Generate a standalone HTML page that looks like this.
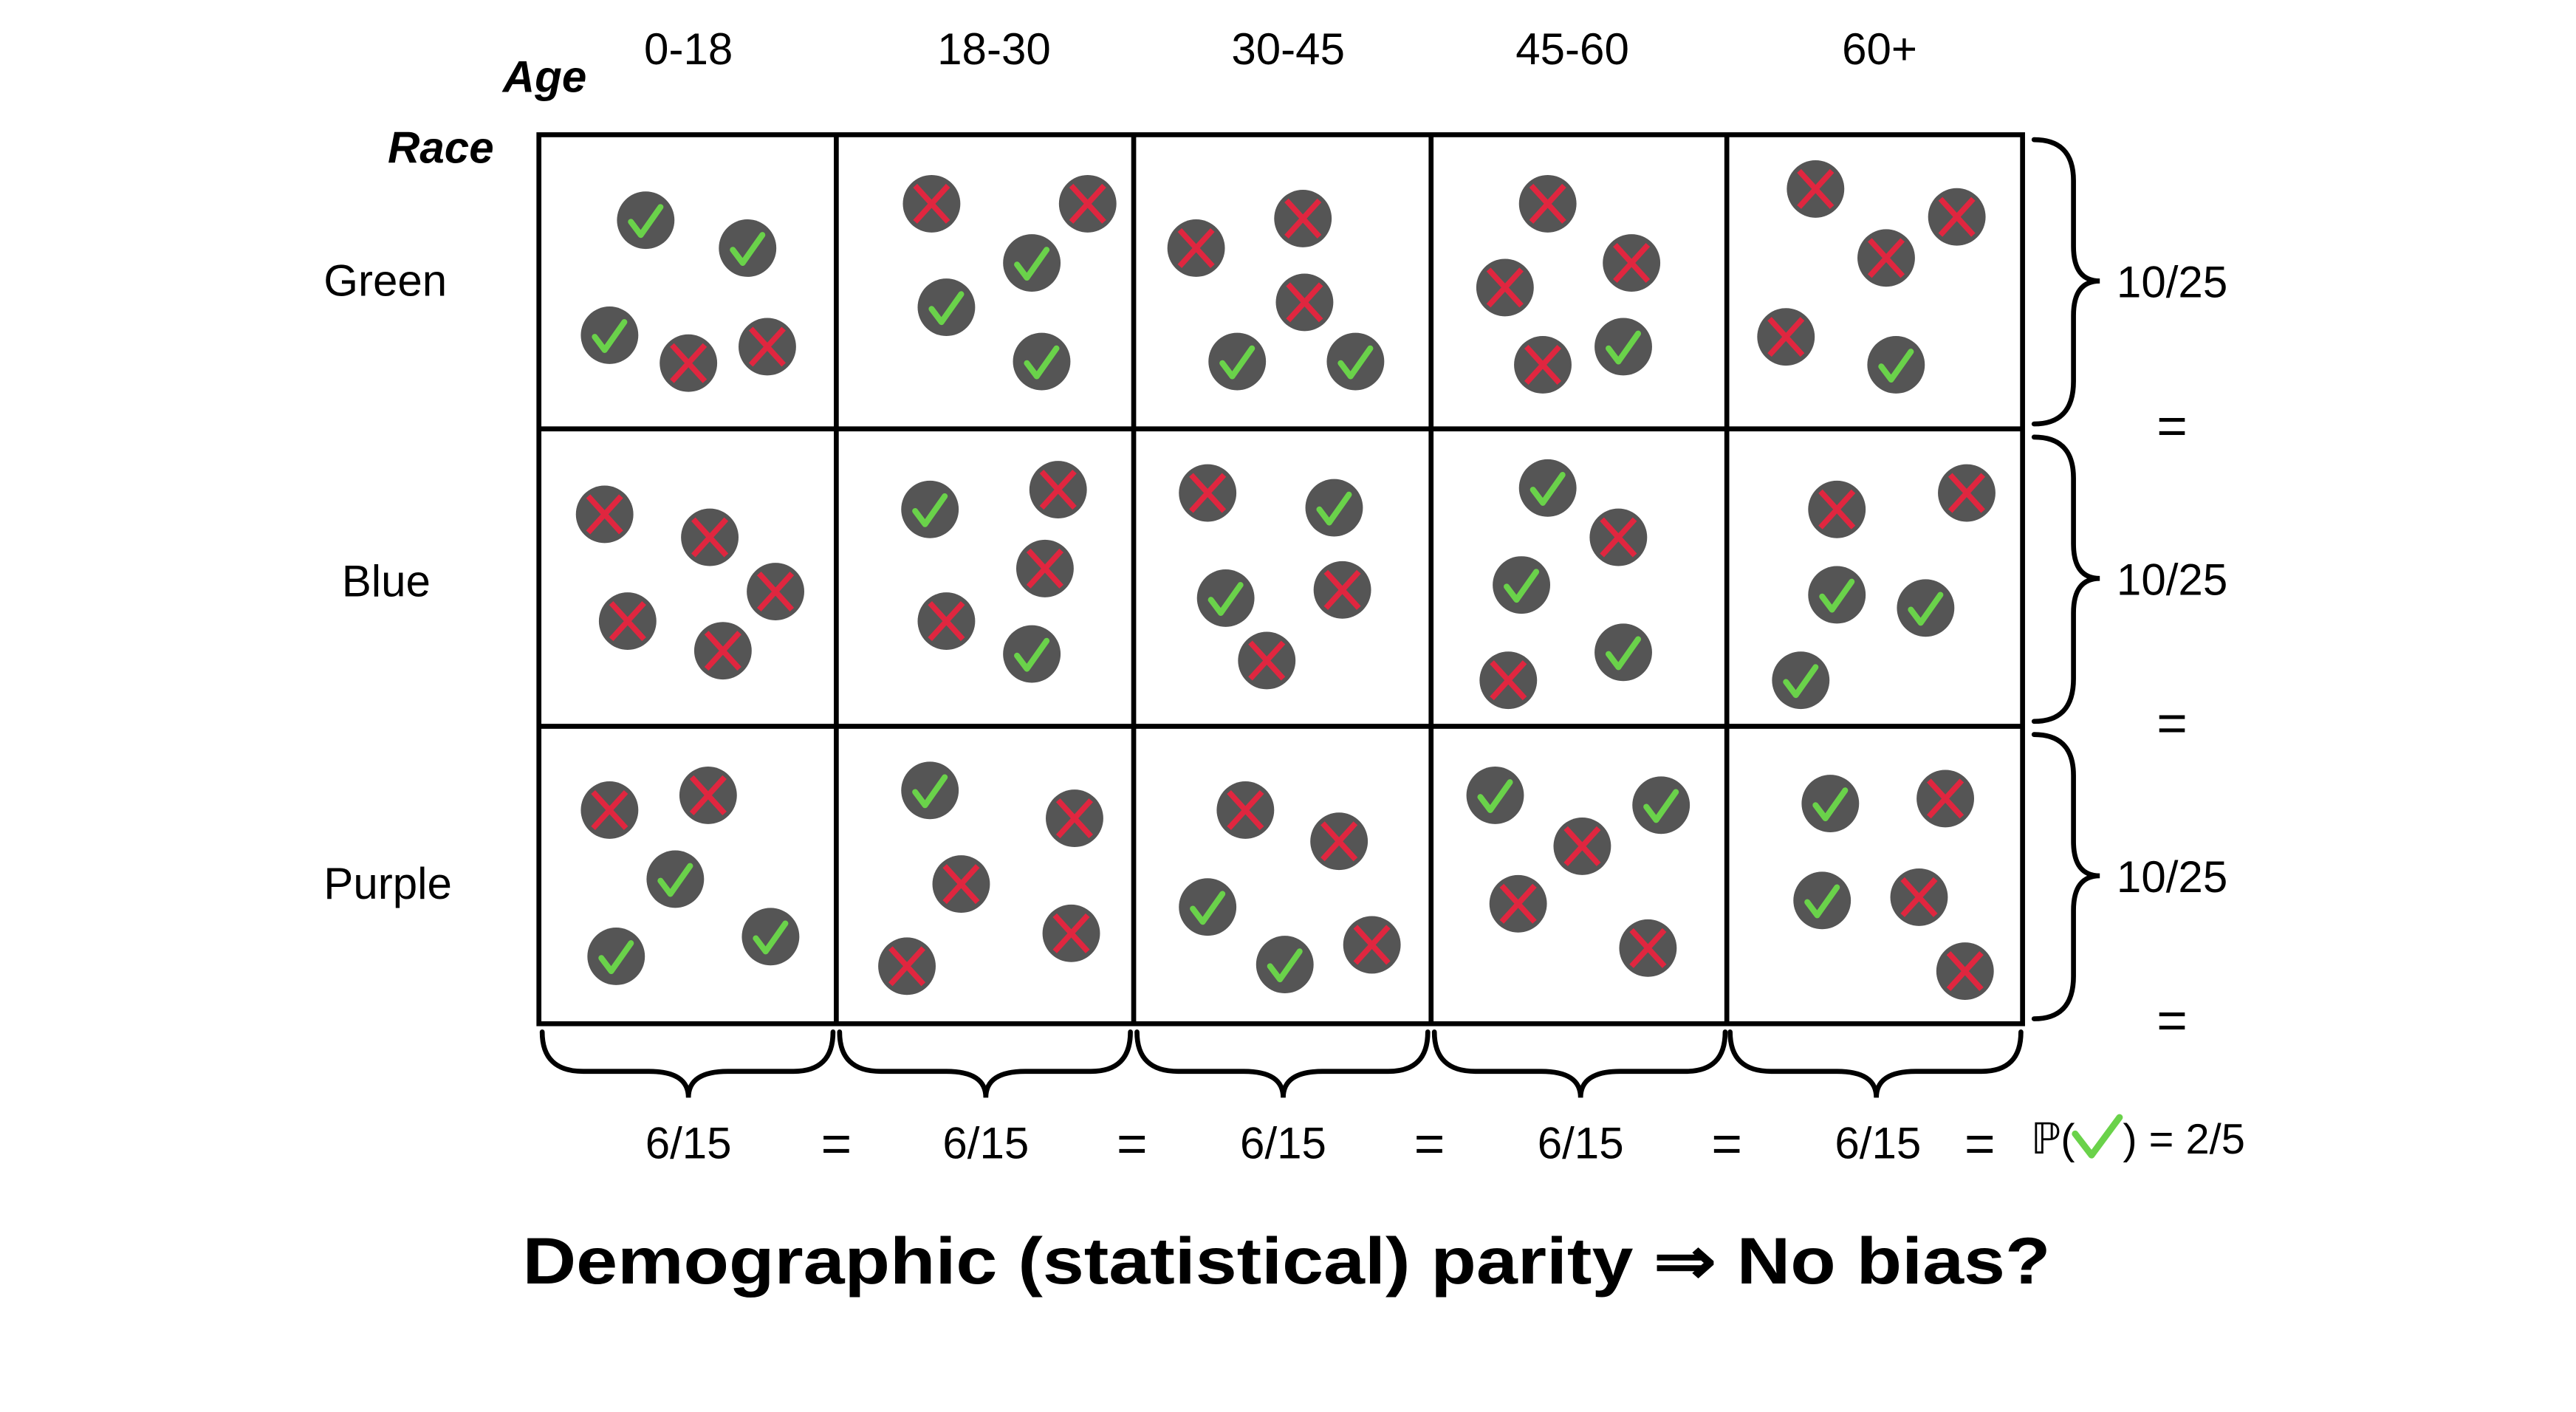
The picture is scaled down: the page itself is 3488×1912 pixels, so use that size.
<!DOCTYPE html>
<html><head><meta charset="utf-8"><style>html,body{margin:0;padding:0;background:#fff}svg{display:block}</style></head>
<body>
<svg width="3488" height="1912" viewBox="0 0 1560 855" preserveAspectRatio="none" xmlns="http://www.w3.org/2000/svg" font-family="Liberation Sans, sans-serif">
<defs>
<g id="ok"><circle r="17.5" fill="#555"/><path d="M-9,1 L-3,9 L9,-8" fill="none" stroke="#6ad24a" stroke-width="3.6" stroke-linecap="round" stroke-linejoin="round"/></g>
<g id="no"><circle r="17.5" fill="#555"/><path d="M-10,-11 L10,11 M10,-11 L-10,11" stroke="#e0263f" stroke-width="3.4"/></g>
</defs>
<g transform="scale(0.995)">
<g fill="none" stroke="#000" stroke-width="3">
<rect x="328" y="82" width="903" height="541"/>
<path d="M509,82V623M690,82V623M871,82V623M1051,82V623M328,261H1231M328,442H1231"/>
</g>
<g font-size="27" fill="#000" text-anchor="middle">
<text x="419" y="39">0-18</text><text x="605" y="39">18-30</text><text x="784" y="39">30-45</text><text x="957" y="39">45-60</text><text x="1144" y="39">60+</text>
</g>
<g font-size="27" font-weight="bold" font-style="italic"><text x="306" y="56">Age</text><text x="236" y="99">Race</text></g>
<g font-size="27"><text x="197" y="180">Green</text><text x="208" y="363">Blue</text><text x="197" y="547">Purple</text></g>
<g>
<use href="#ok" x="393" y="134"/><use href="#ok" x="455" y="151"/><use href="#ok" x="371" y="204"/><use href="#no" x="419" y="221"/><use href="#no" x="467" y="211"/>
<use href="#no" x="567" y="124"/><use href="#no" x="662" y="124"/><use href="#ok" x="628" y="160"/><use href="#ok" x="576" y="187"/><use href="#ok" x="634" y="220"/>
<use href="#no" x="728" y="151"/><use href="#no" x="793" y="133"/><use href="#no" x="794" y="184"/><use href="#ok" x="753" y="220"/><use href="#ok" x="825" y="220"/>
<use href="#no" x="942" y="124"/><use href="#no" x="916" y="175"/><use href="#no" x="993" y="160"/><use href="#no" x="939" y="222"/><use href="#ok" x="988" y="211"/>
<use href="#no" x="1105" y="115"/><use href="#no" x="1191" y="132"/><use href="#no" x="1148" y="157"/><use href="#no" x="1087" y="205"/><use href="#ok" x="1154" y="222"/>

<use href="#no" x="368" y="313"/><use href="#no" x="432" y="327"/><use href="#no" x="472" y="360"/><use href="#no" x="382" y="378"/><use href="#no" x="440" y="396"/>
<use href="#ok" x="566" y="310"/><use href="#no" x="644" y="298"/><use href="#no" x="636" y="346"/><use href="#no" x="576" y="378"/><use href="#ok" x="628" y="398"/>
<use href="#no" x="735" y="300"/><use href="#ok" x="812" y="309"/><use href="#ok" x="746" y="364"/><use href="#no" x="817" y="359"/><use href="#no" x="771" y="402"/>
<use href="#ok" x="942" y="297"/><use href="#no" x="985" y="327"/><use href="#ok" x="926" y="356"/><use href="#no" x="918" y="414"/><use href="#ok" x="988" y="397"/>
<use href="#no" x="1118" y="310"/><use href="#no" x="1197" y="300"/><use href="#ok" x="1118" y="362"/><use href="#ok" x="1172" y="370"/><use href="#ok" x="1096" y="414"/>

<use href="#no" x="371" y="493"/><use href="#no" x="431" y="484"/><use href="#ok" x="411" y="535"/><use href="#ok" x="375" y="582"/><use href="#ok" x="469" y="570"/>
<use href="#ok" x="566" y="481"/><use href="#no" x="654" y="498"/><use href="#no" x="585" y="538"/><use href="#no" x="552" y="588"/><use href="#no" x="652" y="568"/>
<use href="#no" x="758" y="493"/><use href="#no" x="815" y="512"/><use href="#ok" x="735" y="552"/><use href="#ok" x="782" y="587"/><use href="#no" x="835" y="575"/>
<use href="#ok" x="910" y="484"/><use href="#ok" x="1011" y="490"/><use href="#no" x="963" y="515"/><use href="#no" x="924" y="550"/><use href="#no" x="1003" y="577"/>
<use href="#ok" x="1114" y="489"/><use href="#no" x="1184" y="486"/><use href="#ok" x="1109" y="548"/><use href="#no" x="1168" y="546"/><use href="#no" x="1196" y="591"/>
</g>
<g fill="none" stroke="#000" stroke-width="3" stroke-linecap="round">
<path d="M1238,85 Q1262,85 1262,110 L1262,150 Q1262,171 1278,171 Q1262,171 1262,192 L1262,232 Q1262,258 1238,258"/>
<path d="M1238,266 Q1262,266 1262,291 L1262,331 Q1262,352 1278,352 Q1262,352 1262,373 L1262,413 Q1262,439 1238,439"/>
<path d="M1238,447 Q1262,447 1262,472 L1262,512 Q1262,533 1278,533 Q1262,533 1262,554 L1262,594 Q1262,620 1238,620"/>
<g id="bb"><path d="M330,628 Q330,652 355,652 L395,652 Q419,652 419,668 Q419,652 443,652 L483,652 Q507,652 507,628"/></g>
<use href="#bb" x="181"/><use href="#bb" x="362"/><use href="#bb" x="543"/><use href="#bb" x="723"/>
</g>
<g font-size="27" text-anchor="middle">
<text x="1322" y="181">10/25</text><text x="1322" y="362">10/25</text><text x="1322" y="543">10/25</text>
<text x="1322" y="270" font-size="32">=</text><text x="1322" y="451" font-size="32">=</text><text x="1322" y="632" font-size="32">=</text>
<text x="419" y="705">6/15</text><text x="600" y="705">6/15</text><text x="781" y="705">6/15</text><text x="962" y="705">6/15</text><text x="1143" y="705">6/15</text>
<g font-size="32"><text x="509" y="707">=</text><text x="689" y="707">=</text><text x="870" y="707">=</text><text x="1051" y="707">=</text><text x="1205" y="707">=</text></g>
</g>
<text x="1236" y="702" font-size="26">ℙ(</text>
<path d="M1263,690 L1273,703 L1290,680" fill="none" stroke="#6ad24a" stroke-width="4" stroke-linecap="round" stroke-linejoin="round"/>
<text x="1292" y="702" font-size="26">) = 2/5</text>
<text x="318" y="781" font-size="40" font-weight="bold" textLength="930" lengthAdjust="spacingAndGlyphs">Demographic (statistical) parity ⇒ No bias?</text>
</g>
</svg>
</body></html>
